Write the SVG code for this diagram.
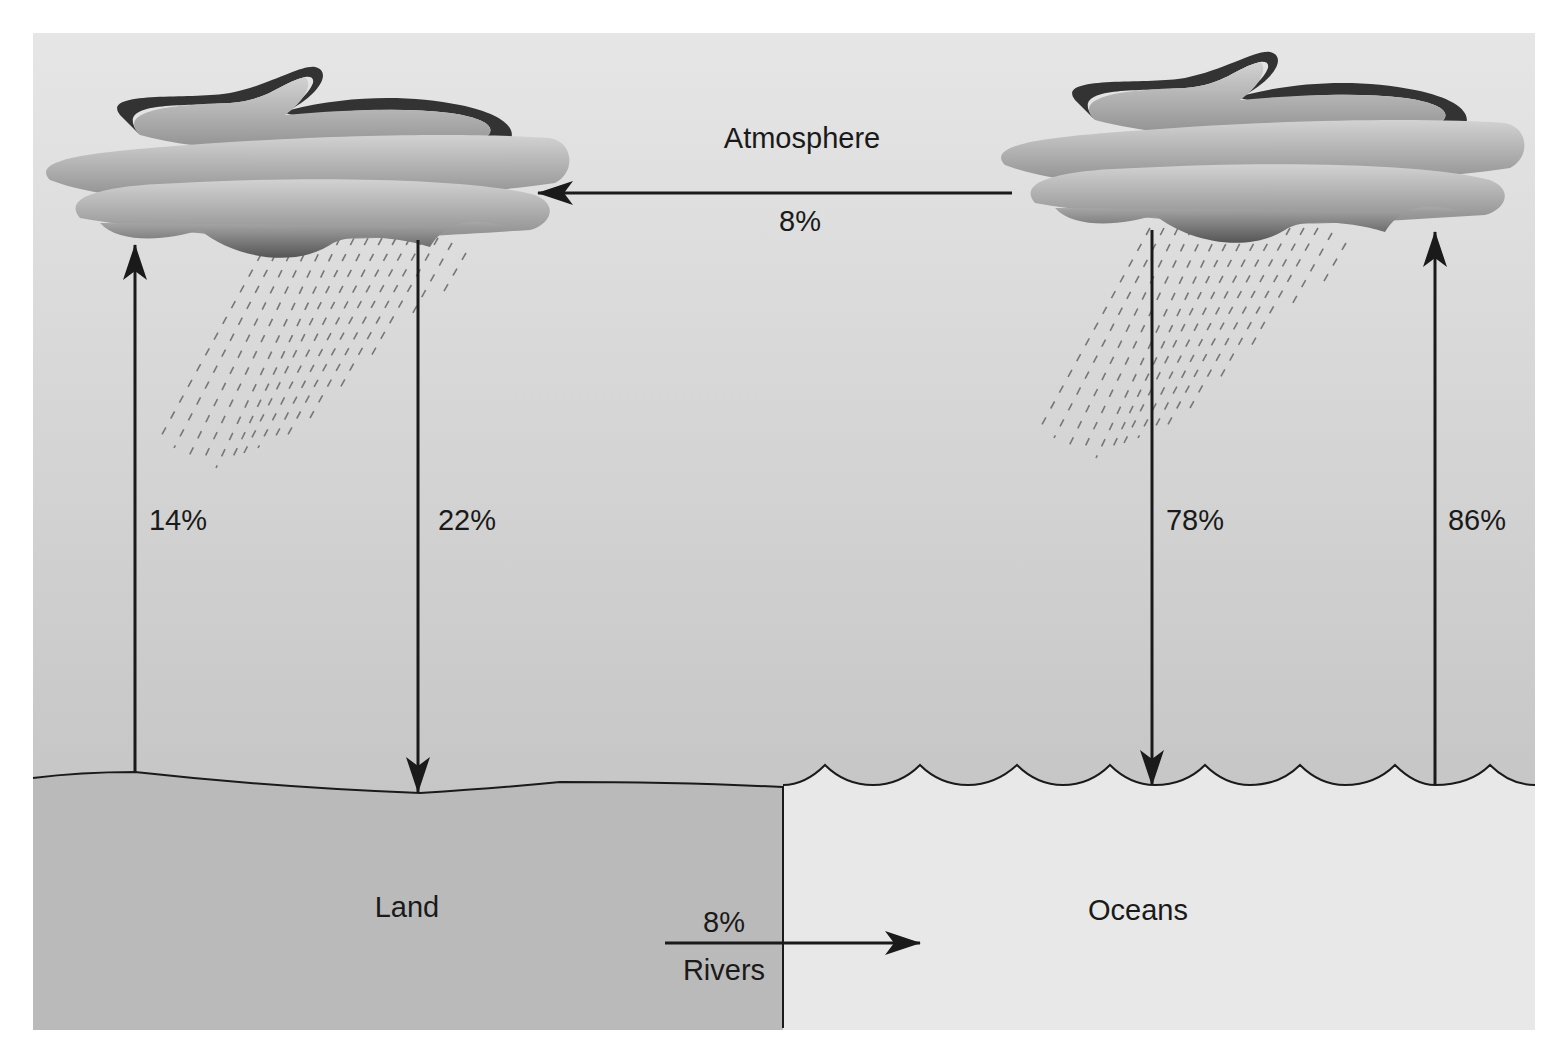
<svg xmlns="http://www.w3.org/2000/svg" width="1555" height="1047" viewBox="0 0 1555 1047">
<defs>
<linearGradient id="sky" x1="0" y1="0" x2="0" y2="1"><stop offset="0" stop-color="#e6e6e6"/><stop offset="1" stop-color="#c6c6c6"/></linearGradient>
<linearGradient id="cl" x1="0" y1="0" x2="0" y2="1"><stop offset="0" stop-color="#d2d2d2"/><stop offset="1" stop-color="#8e8e8e"/></linearGradient>
<linearGradient id="cd" x1="0" y1="0" x2="0" y2="1"><stop offset="0" stop-color="#a8a8a8"/><stop offset="1" stop-color="#555"/></linearGradient>
<marker id="ah" viewBox="0 0 36 24" refX="35" refY="12" markerWidth="36" markerHeight="24" markerUnits="userSpaceOnUse" orient="auto"><path d="M0,0 L36,12 L0,24 L9,12 Z" fill="#1a1a1a"/></marker>
<g id="cloud">
<path d="M90,60 C70,35 160,45 200,38 C240,30 270,10 285,12 C300,15 295,35 260,55 C320,40 380,40 430,50 C480,60 495,80 470,95 L440,90 C470,80 470,65 420,58 C370,52 310,55 270,62 L255,58 C285,35 290,20 275,22 C250,28 240,45 200,48 C150,52 80,45 110,80 Z" fill="#333"/>
<path d="M110,80 C90,60 120,50 200,48 C240,45 250,28 275,22 C285,30 270,50 255,60 C310,55 370,52 420,58 C470,65 470,80 440,90 C380,100 200,105 110,80 Z" fill="url(#cl)"/>
<path d="M20,125 C0,105 60,98 120,93 C300,78 450,78 520,83 C545,88 545,118 525,128 C460,138 360,143 280,143 C180,148 80,148 20,125 Z" fill="url(#cl)"/>
<path d="M50,163 C30,140 80,130 150,128 C300,120 450,125 505,140 C530,150 520,170 500,175 C420,180 340,185 300,183 C250,185 150,180 50,163 Z" fill="url(#cl)"/>
<path d="M70,168 C90,190 140,185 170,175 C200,200 260,215 300,190 C320,175 380,185 400,192 C420,160 450,165 480,172 Z" fill="url(#cd)"/>
</g>
<g id="rain" stroke="#777" stroke-width="1.6" stroke-dasharray="8,10">
<line x1="0" y1="0" x2="-110" y2="200"/><line x1="14" y1="0" x2="-96" y2="210"/><line x1="28" y1="0" x2="-82" y2="220"/><line x1="42" y1="0" x2="-68" y2="225"/><line x1="56" y1="0" x2="-54" y2="230"/><line x1="70" y1="0" x2="-40" y2="225"/><line x1="84" y1="0" x2="-26" y2="215"/><line x1="98" y1="0" x2="-12" y2="210"/><line x1="112" y1="0" x2="2" y2="205"/><line x1="126" y1="0" x2="16" y2="200"/><line x1="140" y1="0" x2="40" y2="180"/><line x1="154" y1="0" x2="70" y2="150"/><line x1="168" y1="0" x2="100" y2="120"/><line x1="182" y1="5" x2="140" y2="80"/><line x1="196" y1="15" x2="170" y2="60"/>
</g>
</defs>
<rect width="1555" height="1047" fill="#fff"/>
<rect x="33" y="33" width="1502" height="760" fill="url(#sky)"/>
<g id="ocean"><path d="M783,785 Q805,785 825,765 Q845,785 873,785 Q900,785 920,765 Q940,785 968,785 Q995,785 1017,765 Q1037,785 1063,785 Q1090,785 1110,765 Q1130,785 1155,785 Q1185,785 1205,765 Q1225,785 1250,785 Q1280,785 1300,765 Q1320,785 1345,785 Q1375,785 1395,765 Q1415,785 1435,785 Q1470,785 1490,765 Q1510,785 1535,785 L1535,1030 L783,1030 Z" fill="#e8e8e8"/>
<path d="M783,785 Q805,785 825,765 Q845,785 873,785 Q900,785 920,765 Q940,785 968,785 Q995,785 1017,765 Q1037,785 1063,785 Q1090,785 1110,765 Q1130,785 1155,785 Q1185,785 1205,765 Q1225,785 1250,785 Q1280,785 1300,765 Q1320,785 1345,785 Q1375,785 1395,765 Q1415,785 1435,785 Q1470,785 1490,765 Q1510,785 1535,785" fill="none" stroke="#1a1a1a" stroke-width="2"/></g>
<g id="land"><path d="M33,778 Q80,772 135,772 Q280,788 420,793 Q500,788 560,782 Q680,782 783,787 L783,1030 L33,1030 Z" fill="#bababa"/>
<path d="M33,778 Q80,772 135,772 Q280,788 420,793 Q500,788 560,782 Q680,782 783,787 L783,1028" fill="none" stroke="#1a1a1a" stroke-width="2"/></g>
<g id="cloud-left"><use href="#rain" x="270" y="238"/><use href="#cloud" x="30" y="55"/></g>
<g id="cloud-right"><use href="#rain" x="1150" y="228"/><use href="#cloud" x="985" y="40"/></g>
<g id="connectors" stroke="#1a1a1a" stroke-width="3" fill="none" marker-end="url(#ah)">
<line x1="1012" y1="193" x2="538" y2="193"/>
<line x1="135" y1="772" x2="135" y2="245"/>
<line x1="418" y1="240" x2="418" y2="792"/>
<line x1="1152" y1="230" x2="1152" y2="785"/>
<line x1="1435" y1="785" x2="1435" y2="232"/>
<line x1="665" y1="943" x2="920" y2="943"/>
</g>
<g id="labels" font-family="'Liberation Sans', Arial, sans-serif" font-size="29" fill="#1a1a1a" text-anchor="middle">
<text x="802" y="148">Atmosphere</text>
<text x="800" y="231">8%</text>
<text x="178" y="530">14%</text>
<text x="467" y="530">22%</text>
<text x="1195" y="530">78%</text>
<text x="1477" y="530">86%</text>
<text x="407" y="917">Land</text>
<text x="1138" y="920">Oceans</text>
<text x="724" y="932">8%</text>
<text x="724" y="980">Rivers</text>
</g>
</svg>
